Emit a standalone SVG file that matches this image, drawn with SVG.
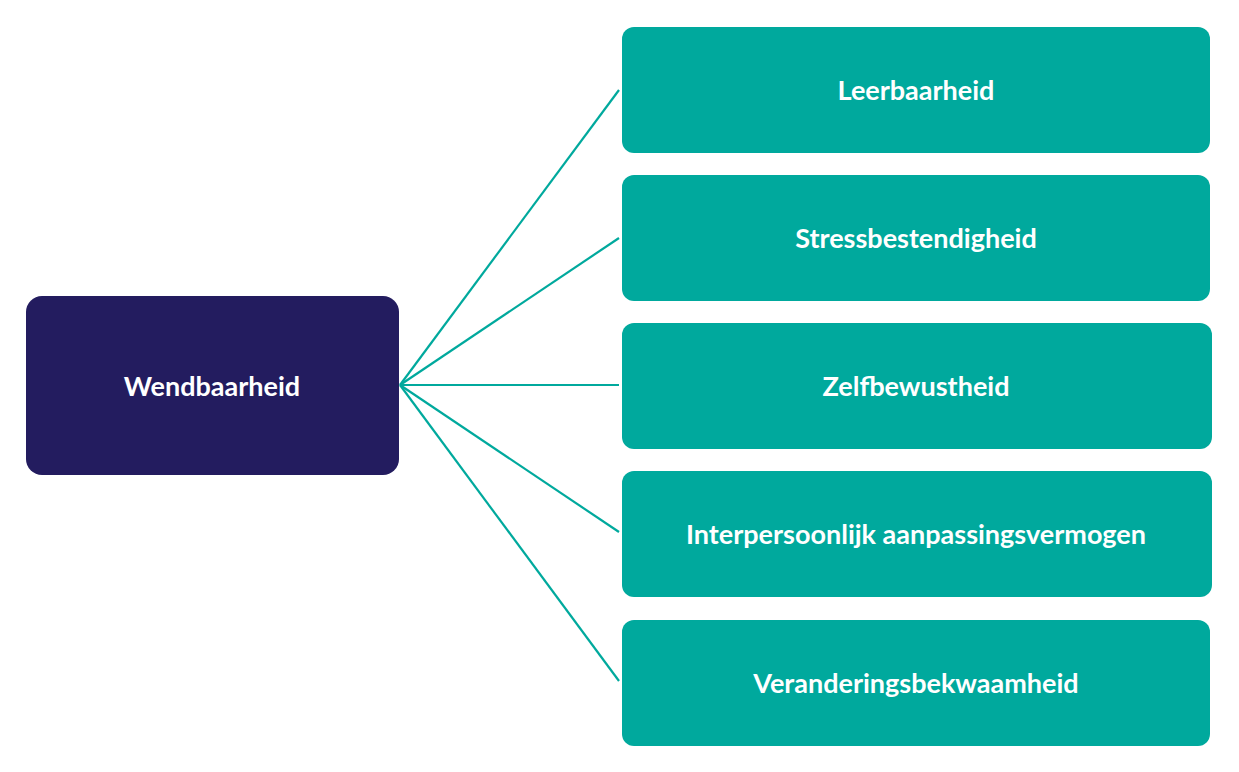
<svg xmlns="http://www.w3.org/2000/svg" width="1239" height="772" viewBox="0 0 1239 772">
<style>
.t{font-family:Lato,"Open Sans",sans-serif;font-weight:bold;font-size:27px;fill:#fff;text-anchor:middle;dominant-baseline:central}
.r{fill:#00A99D}
.c{stroke:#00A99D;stroke-width:2.2;fill:none}
</style>
<rect width="1239" height="772" fill="#fff"/>
<g id="connectors">
<line class="c" x1="400" y1="385" x2="619" y2="90"/>
<line class="c" x1="400" y1="385" x2="619" y2="238"/>
<line class="c" x1="400" y1="385" x2="619" y2="385"/>
<line class="c" x1="400" y1="385" x2="619" y2="532"/>
<line class="c" x1="400" y1="385" x2="619" y2="681"/>
</g>
<g id="wendbaarheid"><rect x="26" y="296" width="373" height="179" rx="16" fill="#231C5F"/><text class="t" x="212" y="385">Wendbaarheid</text></g>
<g id="leerbaarheid"><rect class="r" x="622" y="27" width="588" height="126" rx="12"/><text class="t" x="916" y="89">Leerbaarheid</text></g>
<g id="stress"><rect class="r" x="622" y="175" width="588" height="126" rx="12"/><text class="t" x="916" y="237">Stressbestendigheid</text></g>
<g id="zelf"><rect class="r" x="622" y="323" width="590" height="126" rx="12"/><text class="t" x="916" y="385">Zelfbewustheid</text></g>
<g id="inter"><rect class="r" x="622" y="471" width="590" height="126" rx="12"/><text class="t" x="916" y="533">Interpersoonlijk aanpassingsvermogen</text></g>
<g id="verander"><rect class="r" x="622" y="620" width="588" height="126" rx="12"/><text class="t" x="916" y="682">Veranderingsbekwaamheid</text></g>
</svg>
